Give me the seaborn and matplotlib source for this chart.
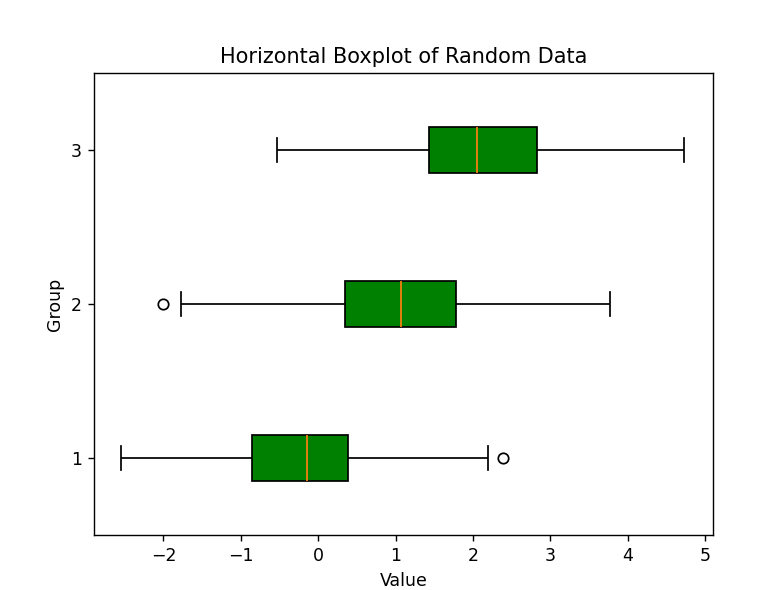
import numpy as np
import pandas as pd
import matplotlib
matplotlib.use("Agg")
import matplotlib.pyplot as plt
import seaborn as sns

# ── Data (sample values: whisker ends, quartiles, median, outliers) ──
group_1 = [-2.549, -0.860, -0.860, -0.146, -0.146, 0.384, 0.384, 2.189, 2.385]
group_2 = [-2.003, -1.774, 0.341, 0.341, 1.065, 1.065, 1.779, 1.779, 3.769]
group_3 = [-0.537, 1.430, 2.050, 2.826, 4.724]

group_labels = ["1", "2", "3"]

df = pd.concat([
    pd.DataFrame({"Group": lab, "Value": vals})
    for lab, vals in zip(group_labels, [group_1, group_2, group_3])
], ignore_index=True)

# ── Plot ──────────────────────────────────────────────────────────────────────
DPI = 125
fig, ax = plt.subplots(figsize=(767 / DPI, 590 / DPI), dpi=DPI)
fig.subplots_adjust(left=94 / 767, right=713 / 767, top=1 - 73 / 590, bottom=1 - 535 / 590)

sns.boxplot(
    data=df, x="Value", y="Group", order=group_labels[::-1], orient="h",
    color="green", saturation=1, width=0.3, linewidth=1, linecolor="black",
    medianprops={"color": "#ff7f0e", "linewidth": 1},
    flierprops={"marker": "o", "markerfacecolor": "none",
                "markeredgecolor": "black", "markersize": 6},
    ax=ax,
)

ax.set_xlim(-2.898, 5.103)
ax.set_title("Horizontal Boxplot of Random Data")
ax.set_xlabel("Value")
ax.set_ylabel("Group")

plt.savefig("out.png", dpi=DPI)
plt.close()
